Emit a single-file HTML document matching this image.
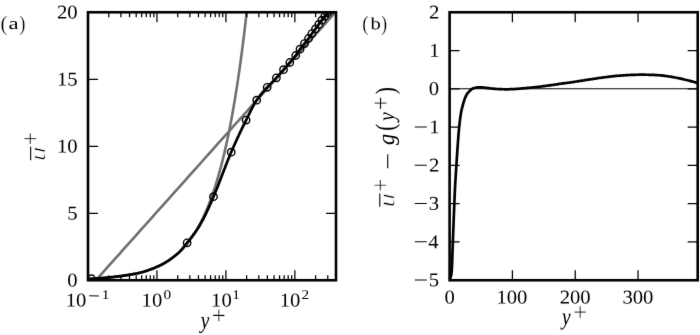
<!DOCTYPE html>
<html><head><meta charset="utf-8"><style>
html,body{margin:0;padding:0;background:#fff;width:700px;height:335px;overflow:hidden}
svg{display:block}
</style></head><body>
<svg width="700" height="335" viewBox="0 0 700 335">
<defs><clipPath id="cl"><rect x="88.0" y="12.25" width="248.0" height="268.0"/></clipPath><clipPath id="cr"><rect x="449.6" y="12.25" width="248.10000000000002" height="268.0"/></clipPath><filter id="soft" filterUnits="userSpaceOnUse" x="0" y="0" width="700" height="335" color-interpolation-filters="sRGB"><feConvolveMatrix order="3" kernelMatrix="0.00524 0.06192 0.00524 0.06192 0.73137 0.06192 0.00524 0.06192 0.00524" edgeMode="duplicate"/></filter></defs>
<g filter="url(#soft)"><rect width="700" height="335" fill="#fff"/>
<g clip-path="url(#cl)"><polyline points="88,278.91 88.83,278.87 89.66,278.83 90.49,278.79 91.32,278.75 92.15,278.71 92.98,278.67 93.81,278.62 94.64,278.58 95.46,278.53 96.29,278.48 97.12,278.43 97.95,278.38 98.78,278.33 99.61,278.28 100.44,278.22 101.27,278.16 102.1,278.1 102.93,278.04 103.76,277.98 104.59,277.92 105.42,277.85 106.25,277.79 107.08,277.72 107.91,277.65 108.74,277.57 109.57,277.5 110.39,277.42 111.22,277.34 112.05,277.26 112.88,277.17 113.71,277.09 114.54,277 115.37,276.91 116.2,276.81 117.03,276.72 117.86,276.62 118.69,276.52 119.52,276.41 120.35,276.3 121.18,276.19 122.01,276.08 122.84,275.96 123.67,275.84 124.49,275.72 125.32,275.59 126.15,275.46 126.98,275.32 127.81,275.19 128.64,275.04 129.47,274.9 130.3,274.75 131.13,274.59 131.96,274.43 132.79,274.27 133.62,274.1 134.45,273.93 135.28,273.75 136.11,273.57 136.94,273.38 137.77,273.19 138.6,272.99 139.42,272.79 140.25,272.58 141.08,272.36 141.91,272.14 142.74,271.91 143.57,271.68 144.4,271.44 145.23,271.19 146.06,270.94 146.89,270.67 147.72,270.41 148.55,270.13 149.38,269.85 150.21,269.55 151.04,269.25 151.87,268.94 152.7,268.63 153.53,268.3 154.35,267.96 155.18,267.62 156.01,267.26 156.84,266.9 157.67,266.52 158.5,266.14 159.33,265.74 160.16,265.34 160.99,264.92 161.82,264.49 162.65,264.04 163.48,263.59 164.31,263.12 165.14,262.64 165.97,262.14 166.8,261.64 167.63,261.11 168.45,260.58 169.28,260.02 170.11,259.46 170.94,258.87 171.77,258.27 172.6,257.65 173.43,257.02 174.26,256.37 175.09,255.7 175.92,255.01 176.75,254.3 177.58,253.57 178.41,252.82 179.24,252.05 180.07,251.26 180.9,250.44 181.73,249.61 182.56,248.74 183.38,247.86 184.21,246.95 185.04,246.02 185.87,245.05 186.7,244.07 187.53,243.05 188.36,242 189.19,240.93 190.02,239.83 190.85,238.69 191.68,237.52 192.51,236.32 193.34,235.09 194.17,233.82 195,232.52 195.83,231.18 196.66,229.8 197.48,228.38 198.31,226.93 199.14,225.43 199.97,223.89 200.8,222.31 201.63,220.68 202.46,219 203.29,217.28 204.12,215.52 204.95,213.7 205.78,211.83 206.61,209.91 207.44,207.93 208.27,205.9 209.1,203.81 209.93,201.67 210.76,199.46 211.59,197.19 212.41,194.86 213.24,192.46 214.07,189.99 214.9,187.46 215.73,184.85 216.56,182.17 217.39,179.42 218.22,176.59 219.05,173.68 219.88,170.68 220.71,167.61 221.54,164.44 222.37,161.19 223.2,157.85 224.03,154.41 224.86,150.88 225.69,147.24 226.52,143.51 227.34,139.67 228.17,135.72 229,131.66 229.83,127.49 230.66,123.2 231.49,118.78 232.32,114.25 233.15,109.59 233.98,104.8 234.81,99.87 235.64,94.8 236.47,89.59 237.3,84.24 238.13,78.73 238.96,73.07 239.79,67.26 240.62,61.27 241.44,55.12 242.27,48.8 243.1,42.3 243.93,35.62 244.76,28.75 245.59,21.69 246.42,14.42 247.25,6.96 248.08,-0.72 248.91,-8.61 249.74,-16.72 250.57,-25.06 251.4,-33.63 252.23,-42.45 253.06,-51.51" fill="none" stroke="#707070" stroke-width="2.6"/><polyline points="95.26,280.93 99.34,276.36 103.42,271.8 107.5,267.23 111.58,262.67 115.66,258.1 119.74,253.54 123.82,248.97 127.9,244.41 131.98,239.85 136.06,235.28 140.14,230.72 144.22,226.15 148.3,221.59 152.38,217.02 156.46,212.46 160.54,207.89 164.62,203.33 168.71,198.76 172.79,194.2 176.87,189.64 180.95,185.07 185.03,180.51 189.11,175.94 193.19,171.38 197.27,166.81 201.35,162.25 205.43,157.68 209.51,153.12 213.59,148.55 217.67,143.99 221.75,139.43 225.83,134.86 229.91,130.3 233.99,125.73 238.07,121.17 242.15,116.6 246.23,112.04 250.31,107.47 254.39,102.91 258.47,98.34 262.55,93.78 266.63,89.21 270.71,84.65 274.79,80.09 278.87,75.52 282.96,70.96 287.04,66.39 291.12,61.83 295.2,57.26 299.28,52.7 303.36,48.13 307.44,43.57 311.52,39 315.6,34.44 319.68,29.88 323.76,25.31 327.84,20.75 331.92,16.18 336,11.62" fill="none" stroke="#707070" stroke-width="2.6"/><polyline points="88,278.92 88.62,278.89 89.24,278.86 89.86,278.83 90.49,278.79 91.11,278.76 91.73,278.73 92.35,278.7 92.97,278.67 93.59,278.63 94.22,278.6 94.84,278.56 95.46,278.52 96.08,278.48 96.7,278.44 97.32,278.4 97.94,278.36 98.57,278.31 99.19,278.27 99.81,278.22 100.43,278.17 101.05,278.13 101.67,278.08 102.3,278.03 102.92,277.97 103.54,277.92 104.16,277.87 104.78,277.81 105.4,277.76 106.03,277.7 106.65,277.64 107.27,277.58 107.89,277.52 108.51,277.46 109.13,277.39 109.75,277.33 110.38,277.26 111,277.2 111.62,277.13 112.24,277.06 112.86,276.99 113.48,276.92 114.11,276.85 114.73,276.77 115.35,276.7 115.97,276.62 116.59,276.55 117.21,276.47 117.83,276.39 118.46,276.31 119.08,276.23 119.7,276.15 120.32,276.06 120.94,275.98 121.56,275.89 122.19,275.81 122.81,275.72 123.43,275.63 124.05,275.54 124.67,275.45 125.29,275.35 125.91,275.26 126.54,275.17 127.16,275.07 127.78,274.97 128.4,274.88 129.02,274.78 129.64,274.68 130.27,274.57 130.89,274.47 131.51,274.37 132.13,274.26 132.75,274.16 133.37,274.05 133.99,273.94 134.62,273.83 135.24,273.72 135.86,273.61 136.48,273.5 137.1,273.38 137.72,273.25 138.35,273.12 138.97,272.98 139.59,272.84 140.21,272.69 140.83,272.53 141.45,272.37 142.08,272.21 142.7,272.03 143.32,271.86 143.94,271.67 144.56,271.49 145.18,271.29 145.8,271.09 146.43,270.89 147.05,270.68 147.67,270.47 148.29,270.26 148.91,270.04 149.53,269.81 150.16,269.58 150.78,269.35 151.4,269.11 152.02,268.87 152.64,268.63 153.26,268.38 153.88,268.13 154.51,267.88 155.13,267.62 155.75,267.36 156.37,267.1 156.99,266.83 157.61,266.56 158.24,266.28 158.86,266 159.48,265.7 160.1,265.4 160.72,265.09 161.34,264.77 161.96,264.45 162.59,264.12 163.21,263.77 163.83,263.43 164.45,263.07 165.07,262.71 165.69,262.33 166.32,261.95 166.94,261.56 167.56,261.17 168.18,260.77 168.8,260.35 169.42,259.93 170.05,259.51 170.67,259.07 171.29,258.63 171.91,258.18 172.53,257.72 173.15,257.25 173.77,256.78 174.4,256.29 175.02,255.8 175.64,255.3 176.26,254.8 176.88,254.28 177.5,253.76 178.13,253.22 178.75,252.65 179.37,252.04 179.99,251.39 180.61,250.72 181.23,250.02 181.85,249.3 182.48,248.56 183.1,247.81 183.72,247.04 184.34,246.26 184.96,245.48 185.58,244.7 186.21,243.92 186.83,243.14 187.45,242.37 188.07,241.6 188.69,240.83 189.31,240.05 189.93,239.27 190.56,238.48 191.18,237.69 191.8,236.89 192.42,236.08 193.04,235.26 193.66,234.43 194.29,233.58 194.91,232.72 195.53,231.84 196.15,230.95 196.77,230.04 197.39,229.11 198.02,228.16 198.64,227.19 199.26,226.18 199.88,225.14 200.5,224.07 201.12,222.96 201.74,221.83 202.37,220.68 202.99,219.5 203.61,218.3 204.23,217.08 204.85,215.86 205.47,214.61 206.1,213.34 206.72,212.04 207.34,210.72 207.96,209.37 208.58,208 209.2,206.62 209.82,205.21 210.45,203.8 211.07,202.37 211.69,200.93 212.31,199.48 212.93,198.03 213.55,196.57 214.18,195.1 214.8,193.61 215.42,192.1 216.04,190.57 216.66,189.03 217.28,187.46 217.9,185.89 218.53,184.3 219.15,182.71 219.77,181.1 220.39,179.49 221.01,177.88 221.63,176.26 222.26,174.64 222.88,173.02 223.5,171.4 224.12,169.78 224.74,168.18 225.36,166.57 225.98,164.98 226.61,163.4 227.23,161.83 227.85,160.27 228.47,158.73 229.09,157.21 229.71,155.71 230.34,154.22 230.96,152.76 231.58,151.32 232.2,149.89 232.82,148.47 233.44,147.06 234.07,145.66 234.69,144.26 235.31,142.87 235.93,141.5 236.55,140.13 237.17,138.76 237.79,137.41 238.42,136.06 239.04,134.73 239.66,133.4 240.28,132.08 240.9,130.76 241.52,129.46 242.15,128.16 242.77,126.87 243.39,125.59 244.01,124.32 244.63,123.06 245.25,121.8 245.87,120.55 246.5,119.31 247.12,118.05 247.74,116.8 248.36,115.54 248.98,114.28 249.6,113.03 250.23,111.78 250.85,110.55 251.47,109.34 252.09,108.14 252.71,106.96 253.33,105.82 253.95,104.7 254.58,103.61 255.2,102.56 255.82,101.55 256.44,100.59 257.06,99.67 257.68,98.77 258.31,97.91 258.93,97.07 259.55,96.25 260.17,95.45 260.79,94.68 261.41,93.92 262.04,93.17 262.66,92.44 263.28,91.72 263.9,91 264.52,90.3 265.14,89.6 265.76,88.9 266.39,88.21 267.01,87.52 267.63,86.82 268.25,86.15 268.87,85.49 269.49,84.84 270.12,84.2 270.74,83.58 271.36,82.95 271.98,82.33 272.6,81.71 273.22,81.09 273.84,80.47 274.47,79.83 275.09,79.19 275.71,78.54 276.33,77.88 276.95,77.2 277.57,76.51 278.2,75.81 278.82,75.1 279.44,74.39 280.06,73.67 280.68,72.95 281.3,72.23 281.92,71.51 282.55,70.79 283.17,70.08 283.79,69.37 284.41,68.66 285.03,67.96 285.65,67.25 286.28,66.54 286.9,65.84 287.52,65.13 288.14,64.42 288.76,63.7 289.38,62.98 290.01,62.26 290.63,61.55 291.25,60.84 291.87,60.13 292.49,59.41 293.11,58.69 293.73,57.96 294.36,57.21 294.98,56.43 295.6,55.63 296.22,54.79 296.84,53.89 297.46,52.96 298.09,52 298.71,51.06 299.33,50.14 299.95,49.27 300.57,48.45 301.19,47.65 301.81,46.88 302.44,46.13 303.06,45.37 303.68,44.62 304.3,43.85 304.92,43.07 305.54,42.29 306.17,41.52 306.79,40.74 307.41,39.94 308.03,39.13 308.65,38.29 309.27,37.42 309.89,36.51 310.52,35.59 311.14,34.68 311.76,33.79 312.38,32.95 313,32.13 313.62,31.33 314.25,30.53 314.87,29.73 315.49,28.9 316.11,28.06 316.73,27.21 317.35,26.37 317.97,25.52 318.6,24.67 319.22,23.82 319.84,22.97 320.46,22.11 321.08,21.26 321.7,20.41 322.33,19.57 322.95,18.73 323.57,17.91 324.19,17.09 324.81,16.29 325.43,15.51 326.06,14.74 326.68,13.98 327.3,13.24 327.92,12.52 328.54,11.82 329.16,11.13 329.78,10.47 330.41,9.84 331.03,9.24 331.65,8.7 332.27,8.23 332.89,7.81 333.51,7.44 334.14,7.11 334.76,6.82 335.38,6.58 336,6.38" fill="none" stroke="#000" stroke-width="2.7" stroke-linejoin="round"/><g fill="none" stroke="#000" stroke-width="1.4"><circle cx="91.5" cy="278.74" r="3.7"/><circle cx="187.1" cy="242.8" r="3.7"/><circle cx="213.5" cy="196.7" r="3.7"/><circle cx="231.2" cy="152.2" r="3.7"/><circle cx="246.1" cy="120.1" r="3.7"/><circle cx="256.7" cy="100.2" r="3.7"/><circle cx="267.2" cy="87.3" r="3.7"/><circle cx="276.4" cy="77.8" r="3.7"/><circle cx="283.5" cy="69.7" r="3.7"/><circle cx="289.8" cy="62.5" r="3.7"/><circle cx="295.7" cy="55.5" r="3.7"/><circle cx="300" cy="49.2" r="3.7"/><circle cx="304.5" cy="43.6" r="3.7"/><circle cx="308.5" cy="38.5" r="3.7"/><circle cx="311.9" cy="33.6" r="3.7"/><circle cx="315.49" cy="28.9" r="3.7"/><circle cx="318.81" cy="24.38" r="3.7"/><circle cx="321.9" cy="20.15" r="3.7"/><circle cx="324.77" cy="16.35" r="3.7"/><circle cx="327.44" cy="13.07" r="3.7"/><circle cx="329.94" cy="10.31" r="3.7"/><circle cx="332.27" cy="8.23" r="3.7"/><circle cx="334.45" cy="6.96" r="3.7"/></g></g><line x1="449.6" y1="88.82" x2="697.7" y2="88.82" stroke="#000" stroke-width="1.1"/><g clip-path="url(#cr)"><polyline points="449.3,280 450.14,278.39 450.74,276.79 451.18,275.18 451.45,273.58 451.62,271.97 451.75,270.36 451.86,268.76 451.95,267.15 452.02,265.55 452.09,263.94 452.15,262.34 452.2,260.73 452.26,259.12 452.32,257.52 452.38,255.91 452.43,254.31 452.49,252.7 452.54,251.09 452.6,249.49 452.65,247.88 452.71,246.28 452.76,244.67 452.82,243.06 452.88,241.46 452.94,239.85 452.99,238.25 453.05,236.64 453.11,235.04 453.17,233.43 453.23,231.82 453.29,230.22 453.35,228.61 453.41,227.01 453.48,225.4 453.54,223.79 453.6,222.19 453.66,220.58 453.72,218.98 453.79,217.37 453.85,215.76 453.91,214.16 453.98,212.55 454.04,210.95 454.1,209.34 454.17,207.74 454.23,206.13 454.29,204.52 454.35,202.92 454.41,201.31 454.48,199.71 454.54,198.1 454.61,196.49 454.68,194.89 454.75,193.28 454.82,191.68 454.9,190.07 454.98,188.46 455.06,186.86 455.15,185.25 455.24,183.65 455.33,182.04 455.43,180.44 455.53,178.83 455.63,177.22 455.73,175.62 455.83,174.01 455.94,172.41 456.04,170.8 456.14,169.19 456.25,167.59 456.35,165.98 456.45,164.38 456.55,162.77 456.66,161.16 456.76,159.56 456.86,157.95 456.96,156.35 457.07,154.74 457.18,153.14 457.28,151.53 457.39,149.92 457.51,148.32 457.62,146.71 457.74,145.11 457.85,143.5 457.97,141.89 458.08,140.29 458.2,138.68 458.32,137.08 458.44,135.47 458.57,133.86 458.71,132.26 458.85,130.65 458.99,129.05 459.15,127.44 459.31,125.84 459.48,124.23 459.66,122.62 459.85,121.02 460.05,119.41 460.26,117.81 460.49,116.2 460.74,114.59 461,112.99 461.3,111.38 461.64,109.78 462.01,108.17 462.42,106.56 462.86,104.96 463.31,103.35 463.78,101.75 464.29,100.14 464.86,98.54 465.51,96.93 466.28,95.32 467.25,93.72 468.58,92.11 470.17,90.51 471.9,88.9 473.03,88.38 474.17,87.98 475.3,87.74 476.44,87.54 477.57,87.4 478.71,87.35 479.84,87.37 480.98,87.4 482.11,87.45 483.25,87.51 484.38,87.62 485.52,87.76 486.65,87.92 487.79,88.07 488.92,88.21 490.05,88.34 491.19,88.47 492.32,88.59 493.46,88.7 494.59,88.8 495.73,88.89 496.86,88.98 498,89.05 499.13,89.12 500.27,89.16 501.4,89.2 502.54,89.23 503.67,89.26 504.81,89.28 505.94,89.3 507.07,89.3 508.21,89.29 509.34,89.26 510.48,89.22 511.61,89.17 512.75,89.11 513.88,89.06 515.02,88.99 516.15,88.91 517.29,88.83 518.42,88.73 519.56,88.64 520.69,88.54 521.83,88.45 522.96,88.36 524.09,88.26 525.23,88.16 526.36,88.06 527.5,87.95 528.63,87.85 529.77,87.74 530.9,87.62 532.04,87.51 533.17,87.39 534.31,87.27 535.44,87.14 536.58,87.02 537.71,86.89 538.85,86.76 539.98,86.62 541.12,86.49 542.25,86.35 543.38,86.2 544.52,86.06 545.65,85.91 546.79,85.76 547.92,85.61 549.06,85.46 550.19,85.3 551.33,85.13 552.46,84.97 553.6,84.81 554.73,84.64 555.87,84.47 557,84.3 558.14,84.13 559.27,83.95 560.4,83.78 561.54,83.61 562.67,83.45 563.81,83.29 564.94,83.14 566.08,83 567.21,82.86 568.35,82.72 569.48,82.57 570.62,82.41 571.75,82.25 572.89,82.07 574.02,81.9 575.16,81.72 576.29,81.54 577.42,81.36 578.56,81.18 579.69,81 580.83,80.82 581.96,80.64 583.1,80.47 584.23,80.29 585.37,80.11 586.5,79.94 587.64,79.76 588.77,79.59 589.91,79.41 591.04,79.24 592.18,79.07 593.31,78.89 594.44,78.72 595.58,78.55 596.71,78.38 597.85,78.21 598.98,78.04 600.12,77.88 601.25,77.73 602.39,77.57 603.52,77.41 604.66,77.26 605.79,77.11 606.93,76.97 608.06,76.83 609.2,76.69 610.33,76.56 611.46,76.44 612.6,76.31 613.73,76.19 614.87,76.07 616,75.95 617.14,75.84 618.27,75.74 619.41,75.65 620.54,75.56 621.68,75.48 622.81,75.4 623.95,75.32 625.08,75.25 626.22,75.18 627.35,75.12 628.48,75.07 629.62,75.02 630.75,74.97 631.89,74.92 633.02,74.88 634.16,74.83 635.29,74.79 636.43,74.75 637.56,74.73 638.7,74.71 639.83,74.7 640.97,74.7 642.1,74.71 643.24,74.71 644.37,74.72 645.51,74.73 646.64,74.75 647.77,74.76 648.91,74.78 650.04,74.8 651.18,74.83 652.31,74.86 653.45,74.91 654.58,74.97 655.72,75.03 656.85,75.09 657.99,75.16 659.12,75.24 660.26,75.34 661.39,75.44 662.53,75.55 663.66,75.67 664.79,75.81 665.93,75.97 667.06,76.14 668.2,76.31 669.33,76.49 670.47,76.68 671.6,76.87 672.74,77.07 673.87,77.29 675.01,77.51 676.14,77.73 677.28,77.96 678.41,78.19 679.55,78.43 680.68,78.68 681.81,78.93 682.95,79.19 684.08,79.45 685.22,79.72 686.35,79.99 687.49,80.27 688.62,80.55 689.76,80.84 690.89,81.13 692.03,81.43 693.16,81.73 694.3,82.04 695.43,82.36 696.57,82.68 697.7,83" fill="none" stroke="#000" stroke-width="2.7" stroke-linejoin="round"/></g><path d="M88 280.25V270.25M88 12.25V22.25M108.76 280.25V275.25M108.76 12.25V17.25M120.9 280.25V275.25M120.9 12.25V17.25M129.51 280.25V275.25M129.51 12.25V17.25M136.2 280.25V275.25M136.2 12.25V17.25M141.66 280.25V275.25M141.66 12.25V17.25M146.27 280.25V275.25M146.27 12.25V17.25M150.27 280.25V275.25M150.27 12.25V17.25M153.8 280.25V275.25M153.8 12.25V17.25M156.95 280.25V270.25M156.95 12.25V22.25M177.71 280.25V275.25M177.71 12.25V17.25M189.85 280.25V275.25M189.85 12.25V17.25M198.47 280.25V275.25M198.47 12.25V17.25M205.15 280.25V275.25M205.15 12.25V17.25M210.61 280.25V275.25M210.61 12.25V17.25M215.23 280.25V275.25M215.23 12.25V17.25M219.23 280.25V275.25M219.23 12.25V17.25M222.75 280.25V275.25M222.75 12.25V17.25M225.91 280.25V270.25M225.91 12.25V22.25M246.67 280.25V275.25M246.67 12.25V17.25M258.81 280.25V275.25M258.81 12.25V17.25M267.42 280.25V275.25M267.42 12.25V17.25M274.1 280.25V275.25M274.1 12.25V17.25M279.56 280.25V275.25M279.56 12.25V17.25M284.18 280.25V275.25M284.18 12.25V17.25M288.18 280.25V275.25M288.18 12.25V17.25M291.71 280.25V275.25M291.71 12.25V17.25M294.86 280.25V270.25M294.86 12.25V22.25M315.62 280.25V275.25M315.62 12.25V17.25M327.76 280.25V275.25M327.76 12.25V17.25M88 280.25H98M336 280.25H326M88 213.25H98M336 213.25H326M88 146.25H98M336 146.25H326M88 79.25H98M336 79.25H326M88 12.25H98M336 12.25H326M449.6 280.25V270.25M449.6 12.25V22.25M512.41 280.25V270.25M512.41 12.25V22.25M575.22 280.25V270.25M575.22 12.25V22.25M638.03 280.25V270.25M638.03 12.25V22.25M449.6 280.25H459.6M697.7 280.25H687.7M449.6 241.96H459.6M697.7 241.96H687.7M449.6 203.68H459.6M697.7 203.68H687.7M449.6 165.39H459.6M697.7 165.39H687.7M449.6 127.11H459.6M697.7 127.11H687.7M449.6 88.82H459.6M697.7 88.82H687.7M449.6 50.54H459.6M697.7 50.54H687.7M449.6 12.25H459.6M697.7 12.25H687.7" stroke="#000" stroke-width="1.25" fill="none"/><rect x="88.0" y="12.25" width="248" height="268.0" fill="none" stroke="#000" stroke-width="2.6"/><rect x="449.6" y="12.25" width="248.1" height="268.0" fill="none" stroke="#000" stroke-width="2.6"/><g font-family="'Liberation Serif', serif" fill="#000" text-rendering="geometricPrecision"><text transform="matrix(0.2067,0.00062,0,0.195,67.35224,286.48892)" font-size="100">0</text><text transform="matrix(0.2067,0.00062,0,0.195,67.37242,219.38894)" font-size="100">5</text><text transform="matrix(0.2067,0.00062,0,0.195,57.01724,152.48892)" font-size="100">10</text><text transform="matrix(0.2067,0.00062,0,0.195,57.03742,85.44131)" font-size="100">15</text><text transform="matrix(0.2067,0.00062,0,0.195,57.01724,18.48892)" font-size="100">20</text><text transform="matrix(0.2067,0.00062,0,0.195,428.77242,286.28894)" font-size="100">5</text><text transform="matrix(0.25788,0.00077,0,0.22086,413.51563,287.33333)" font-size="100">−</text><text transform="matrix(0.2067,0.00062,0,0.195,428.28797,248.13177)" font-size="100">4</text><text transform="matrix(0.25788,0.00077,0,0.22086,413.51563,249.04762)" font-size="100">−</text><text transform="matrix(0.2067,0.00062,0,0.195,428.77242,209.78892)" font-size="100">3</text><text transform="matrix(0.25788,0.00077,0,0.22086,413.51563,210.7619)" font-size="100">−</text><text transform="matrix(0.2067,0.00062,0,0.195,429.10548,171.59842)" font-size="100">2</text><text transform="matrix(0.25788,0.00077,0,0.22086,413.51563,172.47619)" font-size="100">−</text><text transform="matrix(0.2067,0.00062,0,0.195,429.20641,133.29367)" font-size="100">1</text><text transform="matrix(0.25788,0.00077,0,0.22086,413.51563,134.19048)" font-size="100">−</text><text transform="matrix(0.2067,0.00062,0,0.195,428.75224,94.96034)" font-size="100">0</text><text transform="matrix(0.2067,0.00062,0,0.195,429.20641,56.72224)" font-size="100">1</text><text transform="matrix(0.2067,0.00062,0,0.195,429.10548,18.45557)" font-size="100">2</text><text transform="matrix(0.2067,0.00062,0,0.195,444.4325,303.38892)" font-size="100">0</text><text transform="matrix(0.2067,0.00062,0,0.195,496.3929,303.38892)" font-size="100">100</text><text transform="matrix(0.2067,0.00062,0,0.195,559.6572,303.38892)" font-size="100">200</text><text transform="matrix(0.2067,0.00062,0,0.195,622.42695,303.38892)" font-size="100">300</text><text transform="matrix(0.2067,0.00062,0,0.195,65.70796,306.53892)" font-size="100">10</text><text transform="matrix(0.20845,0.00063,0,0.20078,88.15253,302.46667)" font-size="100">−</text><text transform="matrix(0.15295,0.00046,0,0.133,101.74644,298.99004)" font-size="100">1</text><text transform="matrix(0.2067,0.00062,0,0.195,141.61311,306.53892)" font-size="100">10</text><text transform="matrix(0.15295,0.00046,0,0.133,163.41335,298.95757)" font-size="100">0</text><text transform="matrix(0.2067,0.00062,0,0.195,211.1161,306.53892)" font-size="100">10</text><text transform="matrix(0.15295,0.00046,0,0.133,232.15457,298.99004)" font-size="100">1</text><text transform="matrix(0.2067,0.00062,0,0.195,279.69675,306.53892)" font-size="100">10</text><text transform="matrix(0.15295,0.00046,0,0.133,301.40737,299.00303)" font-size="100">2</text><text transform="matrix(0.19324,0.00058,0,0.23711,200.71351,327.98278)" font-size="100" font-style="italic">y</text><text transform="matrix(0.24928,0.00075,0,0.25761,211.65845,324.05346)" font-size="100" stroke="#fff" stroke-width="1.16455">+</text><text transform="matrix(0.19324,0.00058,0,0.23711,562.11351,324.58278)" font-size="100" font-style="italic">y</text><text transform="matrix(0.24714,0.00074,0,0.25546,573.16915,320.53218)" font-size="100" stroke="#fff" stroke-width="1.17434">+</text><text transform="matrix(0.20636,0.00062,0,0.21175,0.39316,30.39208)" font-size="100" stroke="#fff" stroke-width="0.75562">(</text><text transform="matrix(0.22784,0.00068,0,0.17119,8.49901,28.93282)" font-size="100">a</text><text transform="matrix(0.17521,0.00053,0,0.21175,19.53536,30.39208)" font-size="100" stroke="#fff" stroke-width="0.75562">)</text><text transform="matrix(0.19078,0.00057,0,0.21175,362.1616,30.39208)" font-size="100" stroke="#fff" stroke-width="0.75562">(</text><text transform="matrix(0.20567,0.00062,0,0.17055,370.5,29.33345)" font-size="100">b</text><text transform="matrix(0.17521,0.00053,0,0.21175,381.23536,30.39208)" font-size="100" stroke="#fff" stroke-width="0.75562">)</text><g transform="rotate(-90)"><text transform="matrix(0.29706,0.00089,0,0.2252,-161.17948,44.9361)" font-size="100" font-style="italic" stroke="#fff" stroke-width="3.10842">u</text><text transform="matrix(0.23424,0.0007,0,0.25546,-145.36663,38.73218)" font-size="100" stroke="#fff" stroke-width="1.17434">+</text><text transform="matrix(0.29223,0.00088,0,0.23369,-207.55542,394.12614)" font-size="100" font-style="italic" stroke="#fff" stroke-width="2.99538">u</text><text transform="matrix(0.22994,0.00069,0,0.24688,-191.74523,388.44706)" font-size="100" stroke="#fff" stroke-width="1.21518">+</text><text transform="matrix(0.30301,0.00091,0,0.22086,-169.80913,394.93333)" font-size="100">−</text><text transform="matrix(0.2233,0.00067,0,0.23845,-145.0109,394.02371)" font-size="100" font-style="italic">g</text><text transform="matrix(0.21025,0.00063,0,0.27351,-130.82395,394.27728)" font-size="100">(</text><text transform="matrix(0.19514,0.00059,0,0.23562,-120.97068,394.21476)" font-size="100" font-style="italic">y</text><text transform="matrix(0.24928,0.00075,0,0.25546,-110.14155,388.93218)" font-size="100" stroke="#fff" stroke-width="1.17434">+</text><text transform="matrix(0.21414,0.00064,0,0.27351,-94.29011,394.27728)" font-size="100">)</text></g></g><path d="M30.65 146.8V160.3M379.8 193.4V206.7" stroke="#000" stroke-width="1.1"/>
</g></svg></body></html>
